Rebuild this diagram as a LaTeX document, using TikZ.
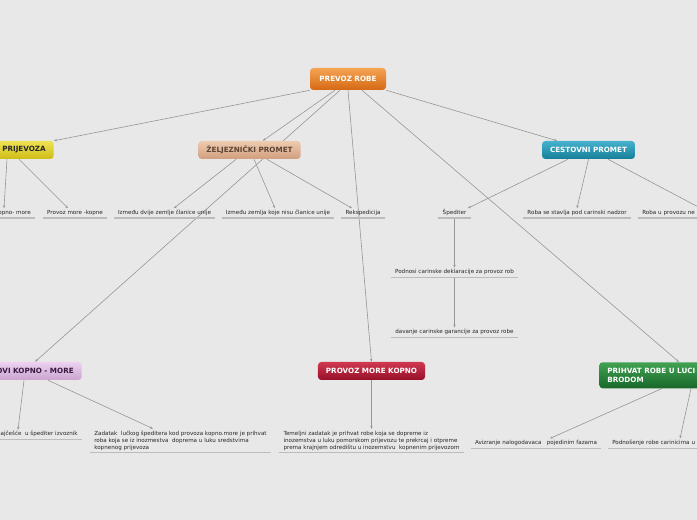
\documentclass[tikz,border=0pt]{standalone}
\usepackage{fontspec}
\setmainfont{DejaVu Sans}
\usepackage{tikz}
\usetikzlibrary{arrows.meta, backgrounds}

\definecolor{pozadina}{RGB}{232,232,232}
\definecolor{vezaC}{RGB}{150,150,150}
\definecolor{podcrtaC}{RGB}{188,188,188}
\definecolor{narT}{RGB}{244,164,84}
\definecolor{narB}{RGB}{214,104,18}
\definecolor{zutT}{RGB}{238,226,84}
\definecolor{zutB}{RGB}{206,188,22}
\definecolor{zelT}{RGB}{238,204,176}
\definecolor{zelB}{RGB}{208,158,126}
\definecolor{zelTx}{RGB}{92,68,50}
\definecolor{cesT}{RGB}{70,178,206}
\definecolor{cesB}{RGB}{22,126,152}
\definecolor{ljuT}{RGB}{236,210,240}
\definecolor{ljuB}{RGB}{202,164,208}
\definecolor{ljuTx}{RGB}{58,24,64}
\definecolor{crvT}{RGB}{208,56,80}
\definecolor{crvB}{RGB}{150,16,40}
\definecolor{zlnT}{RGB}{66,162,82}
\definecolor{zlnB}{RGB}{24,104,42}

\begin{document}
\begin{tikzpicture}[
  x=0.75pt, y=-0.75pt,
  kutija/.style={
    rectangle, rounded corners=2.5pt,
    minimum height=13.5pt, inner xsep=6pt, inner ysep=0pt,
    align=center, font=\fontsize{5.4}{6.8}\selectfont\bfseries
  },
  glavna/.style={kutija, top color=narT, bottom color=narB, text=white, minimum height=16.5pt},
  zuta/.style={kutija, top color=zutT, bottom color=zutB, text=black!85},
  smeda/.style={kutija, top color=zelT, bottom color=zelB, text=zelTx},
  plava/.style={kutija, top color=cesT, bottom color=cesB, text=white},
  ljubic/.style={kutija, top color=ljuT, bottom color=ljuB, text=ljuTx},
  crvena/.style={kutija, top color=crvT, bottom color=crvB, text=white},
  zelena/.style={kutija, top color=zlnT, bottom color=zlnB, text=white, align=left, minimum height=19.5pt},
  veza/.style={draw=vezaC, line width=0.45pt, -{Stealth[length=2.2pt, width=1.8pt]}},
  podcrta/.style={draw=podcrtaC, line width=1.1pt, -},
  stavkab/.style={
    font=\fontsize{4.2}{5.2}\selectfont, text=black!85,
    inner xsep=3pt, inner ysep=1.5pt,
    append after command={(\tikzlastnode.south west) edge[podcrta] (\tikzlastnode.south east)}
  },
  stavka/.style={stavkab, text height=3pt, text depth=1pt, anchor=base},
  opis/.style={stavkab, align=left}
]

\useasboundingbox (0,0) rectangle (697,520);

%% ─────────────────────────────────────────────────────────
%% Sredina: PREVOZ ROBE
%% ─────────────────────────────────────────────────────────
\node[glavna, minimum width=57pt] (PR) at (348,79) {PREVOZ ROBE};

%% GRANE ─ prvi red
\node[zuta, anchor=east]          (PRI) at (54,150)    {PRIJEVOZA};
\node[smeda, minimum width=75.75pt] (ZEL) at (249.5,150) {ŽELJEZNIČKI PROMET};
\node[plava, minimum width=68.25pt] (CES) at (588.5,150) {CESTOVNI PROMET};

%% GRANE ─ drugi red
\node[ljubic, anchor=east]          (KM)  at (82,371)    {OVI KOPNO - MORE};
\node[crvena, minimum width=77.25pt] (MK) at (371.5,371) {PROVOZ MORE KOPNO};
\node[zelena, anchor=north west]    (LUK) at (599,362)   {PRIHVAT ROBE U LUCI\\BRODOM};

%% LISTOVI ─ prvi red
\node[stavka, anchor=base east] (P1) at (35,214.5)   {kopno- more};
\node[stavka]                   (P2) at (75,214.5)   {Provoz more -kopne};
\node[stavka]                   (Z1) at (164.5,214.5) {Između dvije zemlje članice unije};
\node[stavka]                   (Z2) at (278,214.5)  {Između zemlja koje nisu članice unije};
\node[stavka]                   (Z3) at (363,214.5)  {Rekspedicija};
\node[stavka]                   (C1) at (454.5,214.5) {Špediter};
\node[stavka]                   (C2) at (577,214.5)  {Roba se stavlja pod carinski nadzor};
\node[stavka, anchor=base west, text width=80pt, align=left]
                                (C3) at (638,214.5)  {Roba u provozu ne p};

\node[stavka] (C1a) at (454.5,274)   {Podnosi carinske deklaracije za provoz rob};
\node[stavka] (C1b) at (454.5,333.8) {davanje carinske garancije za provoz robe};

%% LISTOVI ─ drugi red
\node[stavka, anchor=base east] (K1) at (82,436) {najčešće\ \ u špediter izvoznik};
\node[opis, anchor=south west]  (K2) at (90,452.7)
  {Zadatak\ \ lučkog špeditera kod provoza kopno.more je prihvat\\
   roba koja se iz inozmestva\ \ doprema u luku sredstvima\\
   kopnenog prijevoza};
\node[opis, anchor=south]       (M1) at (371.5,452.7)
  {Temeljni zadatak je prihvat robe koja se dopreme iz\\
   inozemstva u luku pomorskom prijevozu te prekrcaj i otpreme\\
   prema krajnjem odredištu u inozemstvu\ \ kopnenim prijevozom};
\node[stavka]                   (L1) at (536,444.7) {Avizranje nalogodavaca\ \ \ pojedinim fazama};
\node[stavka, anchor=base west, text width=80pt, align=left]
                                (L2) at (608,444.7) {Podnošenje robe carinicima u p};

%% ─────────────────────────────────────────────────────────
%% Veze (iza kutija)
%% ─────────────────────────────────────────────────────────
\begin{scope}[on background layer]
\fill[pozadina] (0,0) rectangle (697,520);

\draw[veza] (PR.south west) -- (PRI.north east);
\draw[veza] ([xshift=-9.75pt]PR.south) -- ([xshift=10pt]ZEL.north);
\draw[veza] ([xshift=-6pt]PR.south) -- (KM.north);
\draw[veza] (PR.south) -- (MK.north);
\draw[veza] ([xshift=10.5pt]PR.south) -- ([xshift=60pt]LUK.north west);
\draw[veza] (PR.south east) -- ([xshift=-23.6pt]CES.north);

% prijevoz
\draw[veza] ([xshift=-35.25pt]PRI.south east) -- ([xshift=-23.25pt]P1.north east);
\draw[veza] ([xshift=-26.25pt]PRI.south east) -- ([xshift=-5.25pt]P2.north);

% zeljeznicki
\draw[veza] ([xshift=-10pt]ZEL.south) -- ([xshift=7pt]Z1.north);
\draw[veza] ([xshift=3.4pt]ZEL.south) -- ([xshift=-2.25pt]Z2.north);
\draw[veza] ([xshift=13pt]ZEL.south) -- ([xshift=-8.25pt]Z3.north);

% cestovni
\draw[veza] ([xshift=-15.4pt]CES.south) -- ([xshift=10pt]C1.north);
\draw[veza] (CES.south) -- (C2.north);
\draw[veza] ([xshift=14.6pt]CES.south) -- ([xshift=47pt]C3.north west);
\draw[veza] (C1.south) -- (C1a.north);
\draw[veza] (C1a.south) -- (C1b.north);

% kopno - more
\draw[veza] ([xshift=-43.5pt]KM.south east) -- ([xshift=-48pt]K1.north east);
\draw[veza] ([xshift=-25.5pt]KM.south east) -- ([xshift=47.25pt]K2.north west);

% more - kopno
\draw[veza] (MK.south) -- (M1.north);

% luka
\draw[veza] ([xshift=47.25pt]LUK.south west) -- ([xshift=10.5pt]L1.north);
\draw[veza] ([xshift=69pt]LUK.south west) -- ([xshift=54pt]L2.north west);
\end{scope}

\end{tikzpicture}
\end{document}
